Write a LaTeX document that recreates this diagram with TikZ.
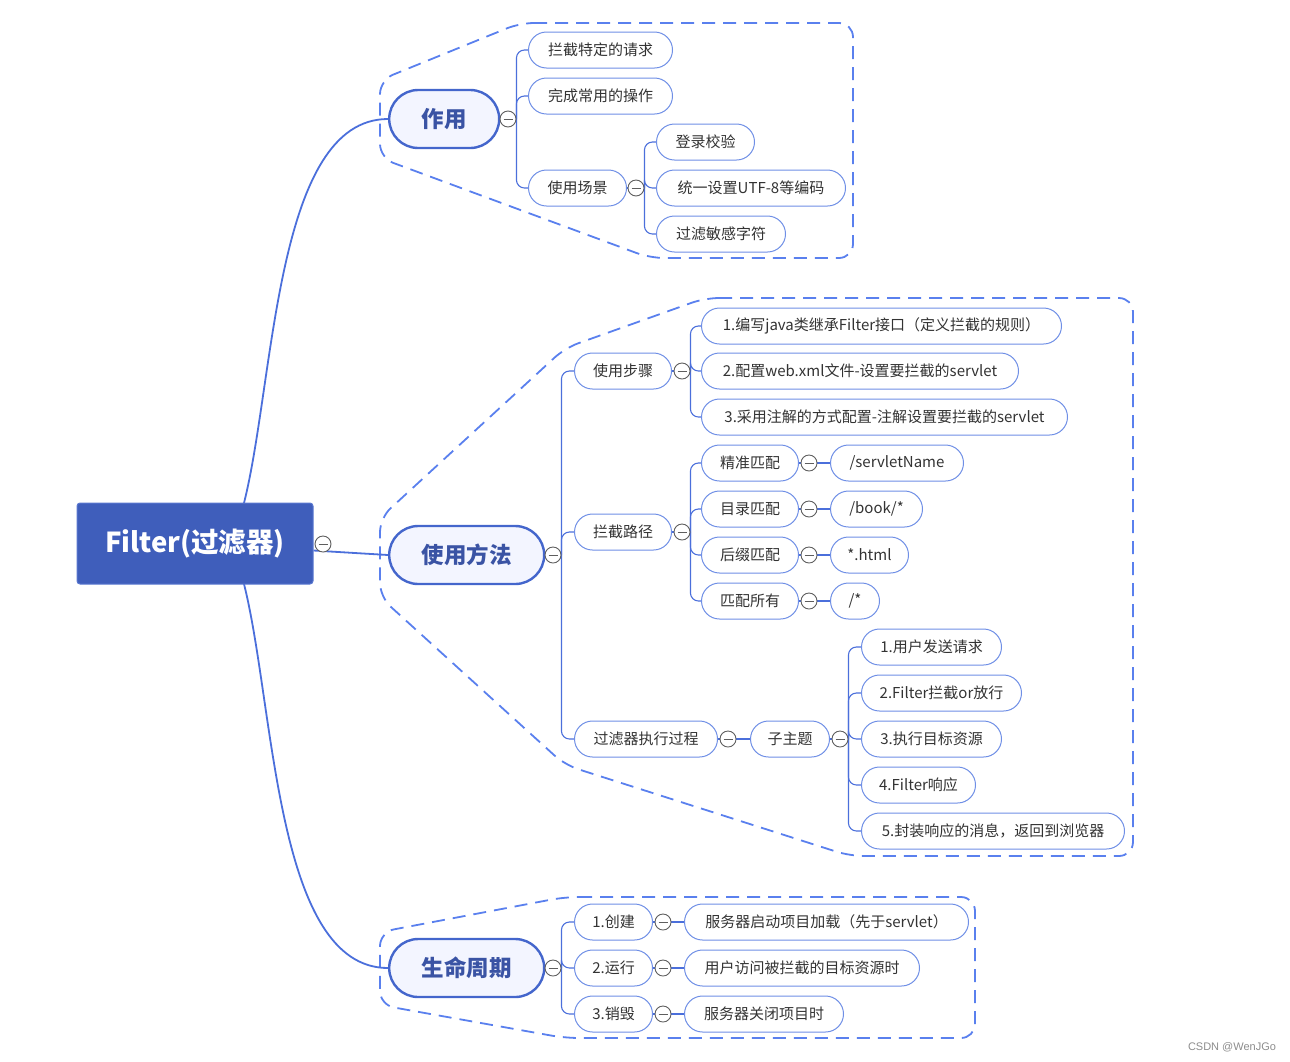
\documentclass[tikz,border=0pt]{standalone}
\usepackage{fontspec}
\setmainfont{Noto Sans CJK SC}
\newfontfamily\wmfont{Liberation Sans}
\usetikzlibrary{backgrounds}
\definecolor{rootc}{HTML}{3F5EBB}
\definecolor{rootb}{HTML}{5A78D0}
\definecolor{mainb}{HTML}{4466CC}
\definecolor{mainf}{HTML}{F3F5FF}
\definecolor{maint}{HTML}{3A53A4}
\definecolor{leafb}{HTML}{6F8FE6}
\definecolor{txt}{HTML}{333333}
\definecolor{connc}{HTML}{4B6FDB}
\definecolor{dashc}{HTML}{5A80EE}
\definecolor{foldc}{HTML}{5E5E5E}
\tikzset{
  leaf/.style={draw=leafb, line width=1pt, fill=white, rounded corners=18pt, minimum height=36pt, inner sep=0pt, text=txt, font=\fontsize{15}{18}\selectfont, anchor=west},
  mainnode/.style={draw=mainb, line width=2.4pt, fill=mainf, rounded corners=29pt, minimum height=58pt, inner sep=0pt, text=maint, font=\fontsize{22.5}{26}\selectfont\bfseries, anchor=west},
  rootnode/.style={draw=rootb, line width=1pt, fill=rootc, rounded corners=3pt, minimum width=236pt, minimum height=81pt, inner sep=0pt, text=white, font=\fontsize{27.5}{32}\selectfont\bfseries},
  fold/.style={circle, draw=foldc, fill=white, line width=0.9pt, minimum size=16pt, inner sep=0pt,
    path picture={\draw[foldc, line width=0.9pt] ([xshift=-4.5pt]path picture bounding box.center) -- ([xshift=4.5pt]path picture bounding box.center);}},
  conn/.style={draw=connc, line width=1.1pt, rounded corners=8pt},
  bigconn/.style={draw=connc, line width=1.8pt},
  grp/.style={draw=dashc, line width=1.8pt, dash pattern=on 13pt off 8pt, rounded corners=14pt},
}
\begin{document}
\begin{tikzpicture}[x=1pt, y=-1pt]
\useasboundingbox (0,0) rectangle (1290,1061);

% root and main nodes
\node[rootnode] (root) at (195,543.5) {Filter(过滤器)};
\node[mainnode, minimum width=110pt] (m1) at (388,119) {作用};
\node[mainnode, minimum width=155pt] (m2) at (388,555) {使用方法};
\node[mainnode, minimum width=155pt] (m3) at (388,968) {生命周期};
\node[fold] (f0) at (323,544) {};
\node[fold] (f1) at (508,119) {};
\node[fold] (f2) at (553,555) {};
\node[fold] (f3) at (553,968) {};

% group 1
\node[leaf, minimum width=144pt] (a1) at (528,50) {拦截特定的请求};
\node[leaf, minimum width=144pt] (a2) at (528,96) {完成常用的操作};
\node[leaf, minimum width=98pt] (a3) at (528,188) {使用场景};
\node[fold] (fa3) at (636,188) {};
\node[leaf, minimum width=98pt] (a31) at (656,142) {登录校验};
\node[leaf, minimum width=189pt] (a32) at (656,188) {统一设置UTF-8等编码};
\node[leaf, minimum width=129pt] (a33) at (656,234) {过滤敏感字符};

% group 2
\node[leaf, minimum width=97pt] (b1) at (574,371) {使用步骤};
\node[fold] (fb1) at (682,371) {};
\node[leaf, minimum width=360pt] (b11) at (701,326) {1.编写java类继承Filter接口（定义拦截的规则）};
\node[leaf, minimum width=317pt] (b12) at (701,371) {2.配置web.xml文件-设置要拦截的servlet};
\node[leaf, minimum width=366pt] (b13) at (701,417) {3.采用注解的方式配置-注解设置要拦截的servlet};

\node[leaf, minimum width=97pt] (b2) at (574,532) {拦截路径};
\node[fold] (fb2) at (682,532) {};
\node[leaf, minimum width=97pt] (b21) at (701,463) {精准匹配};
\node[fold] (fb21) at (809,463) {};
\node[leaf, minimum width=133pt] (b211) at (830,463) {/servletName};
\node[leaf, minimum width=97pt] (b22) at (701,509) {目录匹配};
\node[fold] (fb22) at (809,509) {};
\node[leaf, minimum width=92pt] (b221) at (830,509) {/book/*};
\node[leaf, minimum width=97pt] (b23) at (701,555) {后缀匹配};
\node[fold] (fb23) at (809,555) {};
\node[leaf, minimum width=78pt] (b231) at (830,555) {*.html};
\node[leaf, minimum width=97pt] (b24) at (701,601) {匹配所有};
\node[fold] (fb24) at (809,601) {};
\node[leaf, minimum width=49pt] (b241) at (830,601) {/*};

\node[leaf, minimum width=143pt] (b3) at (574,739) {过滤器执行过程};
\node[fold] (fb3) at (728,739) {};
\node[leaf, minimum width=79pt] (b31) at (750,739) {子主题};
\node[fold] (fb31) at (840,739) {};
\node[leaf, minimum width=140pt] (b311) at (861,647) {1.用户发送请求};
\node[leaf, minimum width=160pt] (b312) at (861,693) {2.Filter拦截or放行};
\node[leaf, minimum width=140pt] (b313) at (861,739) {3.执行目标资源};
\node[leaf, minimum width=114pt] (b314) at (861,785) {4.Filter响应};
\node[leaf, minimum width=263pt] (b315) at (861,831) {5.封装响应的消息，返回到浏览器};

% group 3
\node[leaf, minimum width=78pt] (c1) at (574,922) {1.创建};
\node[fold] (fc1) at (663,922) {};
\node[leaf, minimum width=284pt] (c11) at (684,922) {服务器启动项目加载（先于servlet）};
\node[leaf, minimum width=78pt] (c2) at (574,968) {2.运行};
\node[fold] (fc2) at (663,968) {};
\node[leaf, minimum width=235pt] (c21) at (684,968) {用户访问被拦截的目标资源时};
\node[leaf, minimum width=78pt] (c3) at (574,1014) {3.销毁};
\node[fold] (fc3) at (663,1014) {};
\node[leaf, minimum width=159pt] (c31) at (684,1014) {服务器关闭项目时};

\node[text=black!45, font=\wmfont\fontsize{11}{13}\selectfont] (wm) at (1232,1047) {CSDN @WenJGo};

\coordinate (rt) at (244,503);
\coordinate (rb) at (244,584);

\begin{pgfonlayer}{background}
  % dashed group outlines
  \draw[grp] (520,23) -- (853,23) -- (853,258) -- (650,258) -- (380,158) -- (380,80) -- cycle;
  \draw[grp] (705,298) -- (1133,298) -- (1133,856) -- (850,856) -- (565,765) -- (380,597) -- (380,518) -- (565,348) -- cycle;
  \draw[grp] (565,897) -- (975,897) -- (975,1038) -- (565,1038) -- (380,1005) -- (380,932) -- cycle;

  % root connections
  \draw[bigconn] (rt) .. controls (275,380) and (275,119) .. (m1.west);
  \draw[bigconn] (rb) .. controls (275,707) and (275,968) .. (m3.west);
  \draw[bigconn] ([yshift=-7pt]root.east) -- (m2.west);

  % main to fold
  \draw[conn] (m1.east) -- (f1.west);
  \draw[conn] (m2.east) -- (f2.west);
  \draw[conn] (m3.east) -- (f3.west);

  % group 1
  \foreach \c in {a1,a2,a3} \draw[conn] (f1.east) |- (\c.west);
  \draw[conn] (a3.east) -- (fa3.west);
  \foreach \c in {a31,a32,a33} \draw[conn] (fa3.east) |- (\c.west);

  % group 2
  \foreach \c in {b1,b2,b3} \draw[conn] (f2.east) |- (\c.west);
  \draw[conn] (b1.east) -- (fb1.west);
  \foreach \c in {b11,b12,b13} \draw[conn] (fb1.east) |- (\c.west);
  \draw[conn] (b2.east) -- (fb2.west);
  \foreach \c in {b21,b22,b23,b24} \draw[conn] (fb2.east) |- (\c.west);
  \draw[conn] (b21.east) -- (fb21.west);  \draw[conn] (fb21.east) -- (b211.west);
  \draw[conn] (b22.east) -- (fb22.west);  \draw[conn] (fb22.east) -- (b221.west);
  \draw[conn] (b23.east) -- (fb23.west);  \draw[conn] (fb23.east) -- (b231.west);
  \draw[conn] (b24.east) -- (fb24.west);  \draw[conn] (fb24.east) -- (b241.west);
  \draw[conn] (b3.east) -- (fb3.west);  \draw[conn] (fb3.east) -- (b31.west);
  \draw[conn] (b31.east) -- (fb31.west);
  \foreach \c in {b311,b312,b313,b314,b315} \draw[conn] (fb31.east) |- (\c.west);

  % group 3
  \foreach \c in {c1,c2,c3} \draw[conn] (f3.east) |- (\c.west);
  \draw[conn] (c1.east) -- (fc1.west);  \draw[conn] (fc1.east) -- (c11.west);
  \draw[conn] (c2.east) -- (fc2.west);  \draw[conn] (fc2.east) -- (c21.west);
  \draw[conn] (c3.east) -- (fc3.west);  \draw[conn] (fc3.east) -- (c31.west);
\end{pgfonlayer}
\end{tikzpicture}
\end{document}
